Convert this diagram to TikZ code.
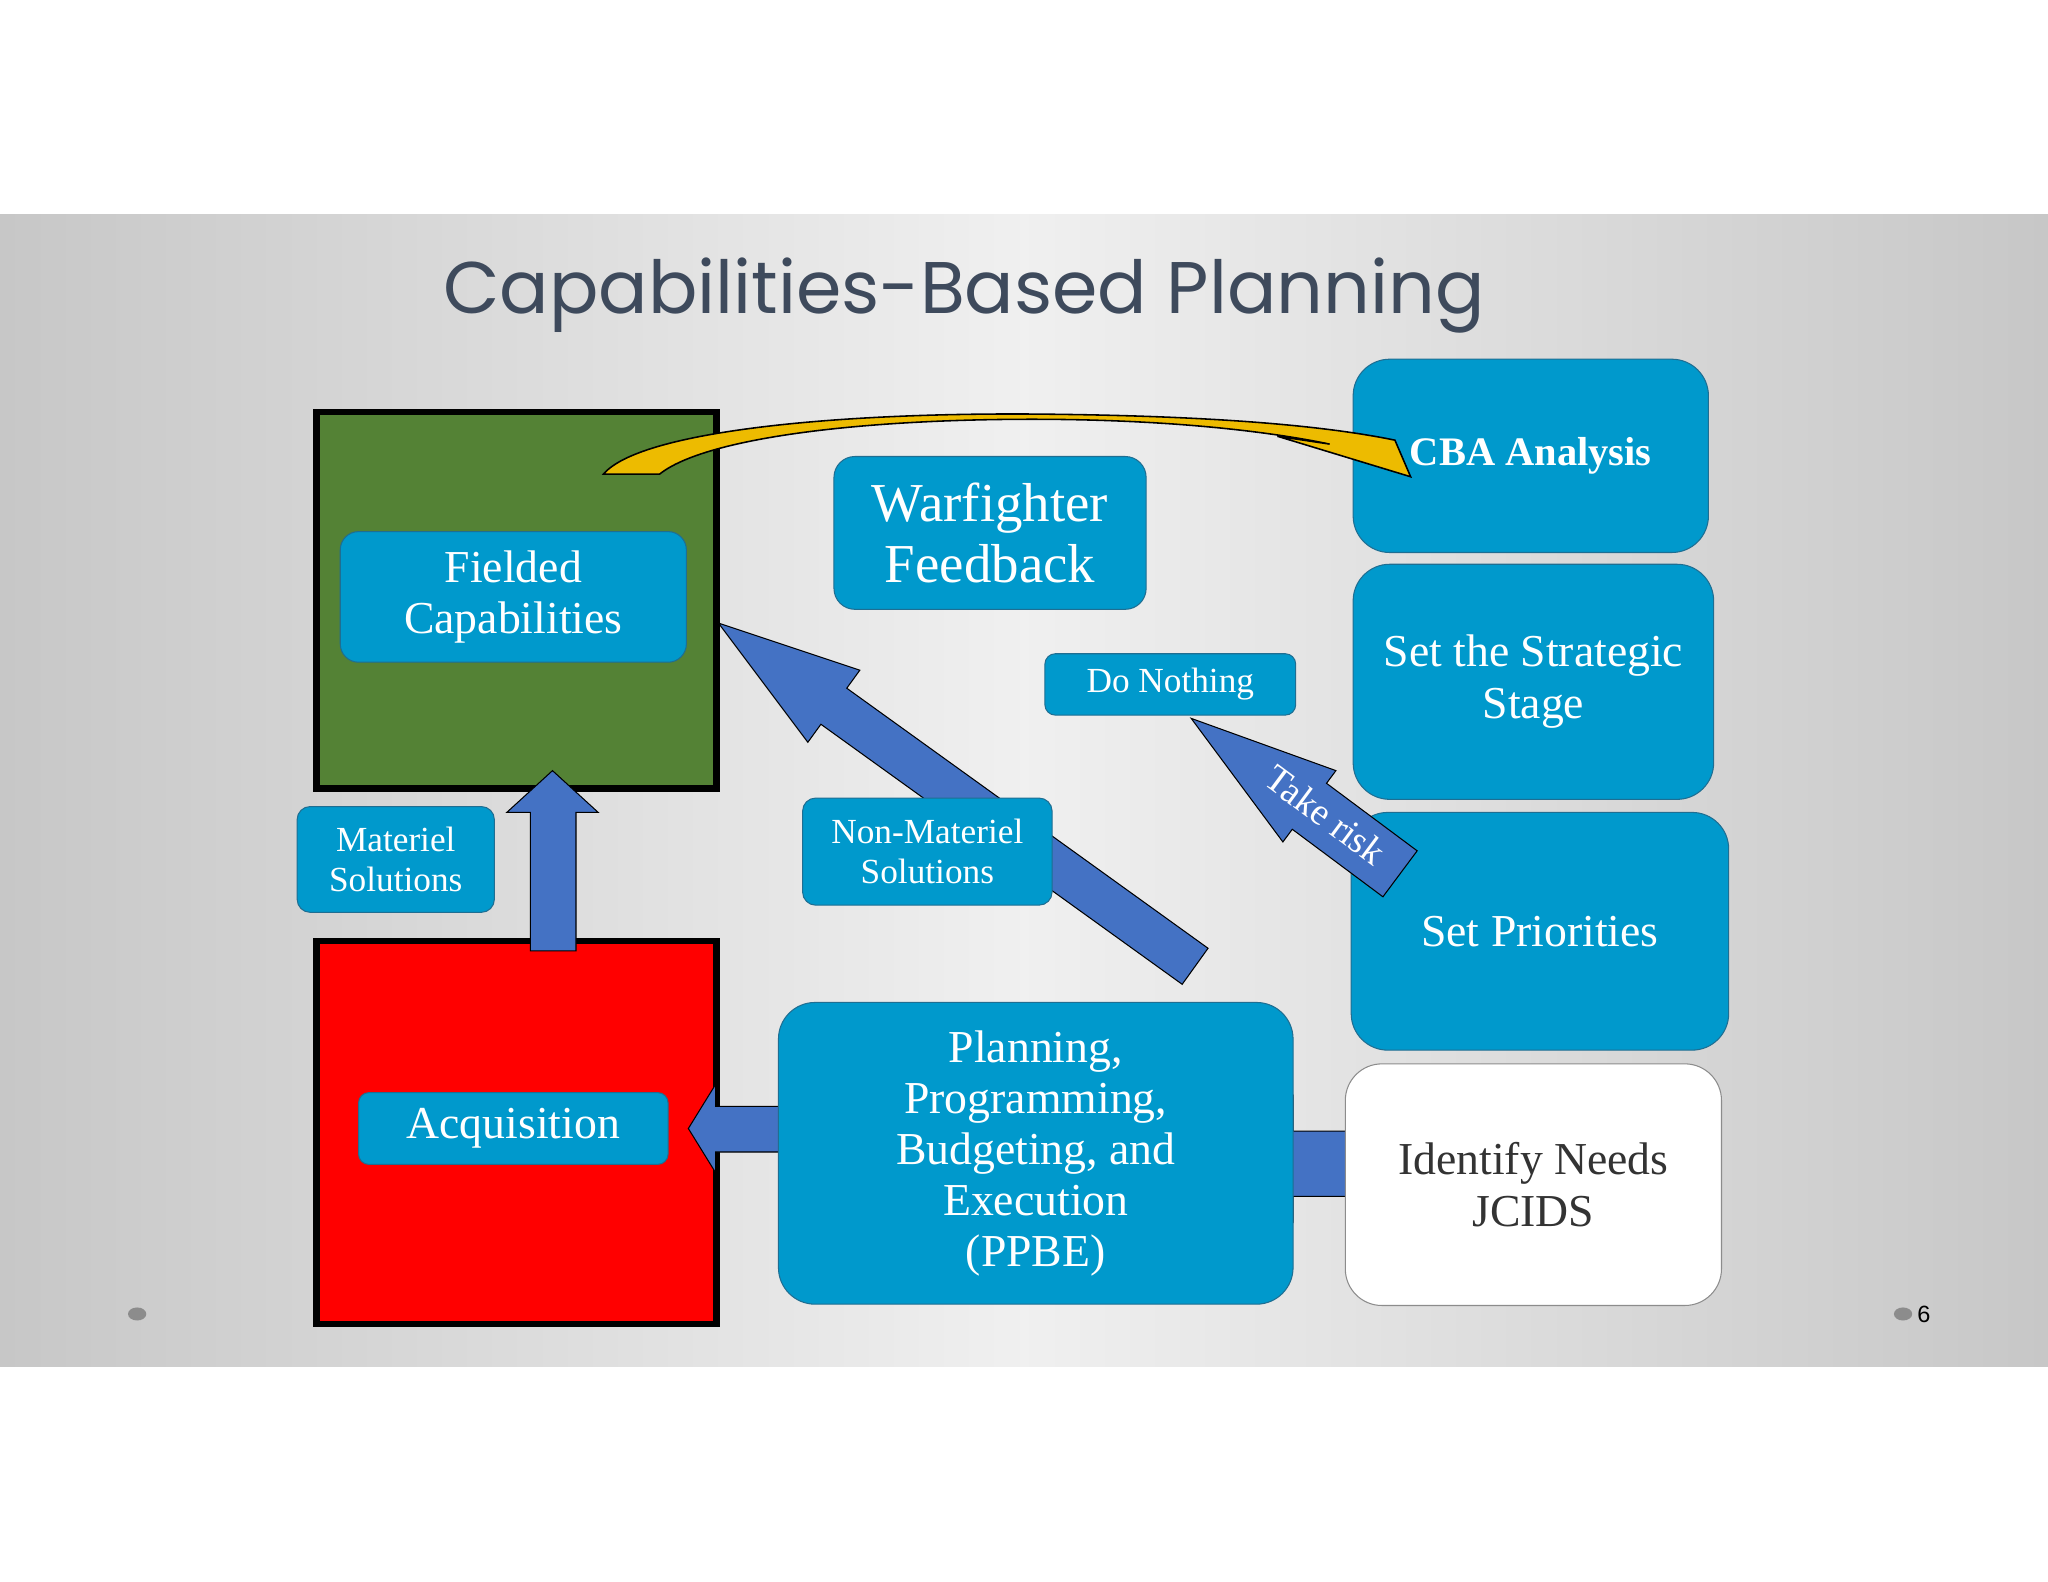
\documentclass[tikz,border=0pt]{standalone}
\usepackage{fontspec}
\setmainfont{Liberation Serif}
\newfontfamily\titlefont{Poppins}
\newfontfamily\sansf{Liberation Sans}
\begin{document}
\definecolor{boxblue}{HTML}{0099CC}
\definecolor{boxedge}{HTML}{1F6E92}
\definecolor{arrblue}{HTML}{4472C4}
\definecolor{titlec}{HTML}{3E4A5C}
\definecolor{ygold}{HTML}{EDBB00}
\definecolor{sqgreen}{RGB}{84,130,53}
\begin{tikzpicture}[x=1pt,y=-1pt,
  box/.style={draw=boxedge,line width=0.8pt,fill=boxblue,rounded corners=12pt,text=white,align=center,inner sep=0pt},
  big/.style={box,rounded corners=28pt},
  barrow/.style={draw=black,line width=0.8pt,fill=arrblue,line join=miter},
  sq/.style={draw=black,line width=5pt}]
\useasboundingbox (0,0) rectangle (1568,1211);
\fill[white] (0,0) rectangle (1568,1211);
\shade[left color=black!22,right color=black!22,middle color=black!6] (0,164) rectangle (1568,1046);
\node[font=\titlefont\fontsize{56}{64}\selectfont,text=titlec] (title) at (738,226) {Capabilities-Based Planning};
% squares
\node[sq,fill=sqgreen,minimum width=306,minimum height=288,anchor=north west] (green) at (240,313) {};
\node[sq,fill=red,minimum width=306,minimum height=293,anchor=north west] (red) at (240,718) {};
% arrows
\draw[barrow] (406,728) -- (406,622) -- (388,622) -- (423,590) -- (458,622) -- (441,622) -- (441,728) -- cycle;
\draw[barrow] (603,847) -- (548,847) -- (548,830) -- (527,864) -- (548,898) -- (548,882) -- (603,882) -- cycle;
\draw[barrow] (1046,866) -- (990,866) -- (990,840) -- (970,898) -- (990,935) -- (990,916) -- (1046,916) -- cycle;
\draw[barrow] (550,477) -- (658.3,513.1) -- (648.3,526.9) -- (924.9,726.0) -- (905.1,753.6) -- (628.5,554.5) -- (618.5,568.3) -- cycle;
% big boxes
\node[big,minimum width=272,minimum height=148,font=\bfseries\fontsize{31}{37}\selectfont] (cba) at (1172,349) {CBA Analysis};
\node[big,minimum width=276,minimum height=180,font=\fontsize{35}{40}\selectfont] (strat) at (1174,522) {Set the Strategic\\Stage};
\node[big,minimum width=289,minimum height=182,font=\fontsize{35}{40}\selectfont] (prio) at (1179,713) {Set Priorities};
\node[big,draw=black!45,fill=white,text=black!80,minimum width=288,minimum height=185,font=\fontsize{35}{40}\selectfont] (jcids) at (1174,907) {Identify Needs\\JCIDS};
\node[big,minimum width=394,minimum height=231,font=\fontsize{35}{39}\selectfont] (ppbe) at (793,883) {Planning,\\Programming,\\Budgeting, and\\Execution\\(PPBE)};
\node[box,minimum width=239,minimum height=117,rounded corners=16pt,font=\fontsize{42}{47}\selectfont] (warf) at (758,408) {Warfighter\\Feedback};
\node[box,minimum width=265,minimum height=100,rounded corners=14pt,font=\fontsize{35}{39}\selectfont] (field) at (393,457) {Fielded\\Capabilities};
\node[box,minimum width=237,minimum height=55,rounded corners=8pt,font=\fontsize{35}{39}\selectfont] (acq) at (393,864) {Acquisition};
\node[box,minimum width=151,minimum height=81,rounded corners=10pt,font=\fontsize{27}{31}\selectfont] (mat) at (303,658) {Materiel\\Solutions};
\node[box,minimum width=191,minimum height=82,rounded corners=10pt,font=\fontsize{27}{31}\selectfont] (nonmat) at (710,652) {Non-Materiel\\Solutions};
\node[box,minimum width=192,minimum height=47,rounded corners=8pt,font=\fontsize{27}{31}\selectfont] (nothing) at (896,524) {Do Nothing};
% take risk arrow
\draw[barrow] (912,550) -- (1022.8,590.0) -- (1015.6,599.7) -- (1085.0,651.4) -- (1058.8,686.6) -- (989.4,634.9) -- (982.2,644.6) -- cycle;
\node[text=white,rotate=-36.6,font=\fontsize{29}{32}\selectfont] (risk) at (1015,624) {Take risk};
% yellow curved arrow
\draw[black,line width=1.2pt,fill=ygold] (462,363) .. controls (490,330) and (640,316) .. (790,317) .. controls (920,318) and (1010,325) .. (1068,337) -- (1080,365) -- (978,334) -- (1018,340) .. controls (960,328) and (880,321) .. (790,321) .. controls (660,321) and (540,335) .. (505,363) -- cycle;
% page marks
\fill[black!45] (105,1006) ellipse (7 and 5);
\fill[black!45] (1457,1006) ellipse (7 and 5);
\node[font=\sansf\fontsize{18}{20}\selectfont] (pg) at (1473,1006) {6};
\end{tikzpicture}
\end{document}
